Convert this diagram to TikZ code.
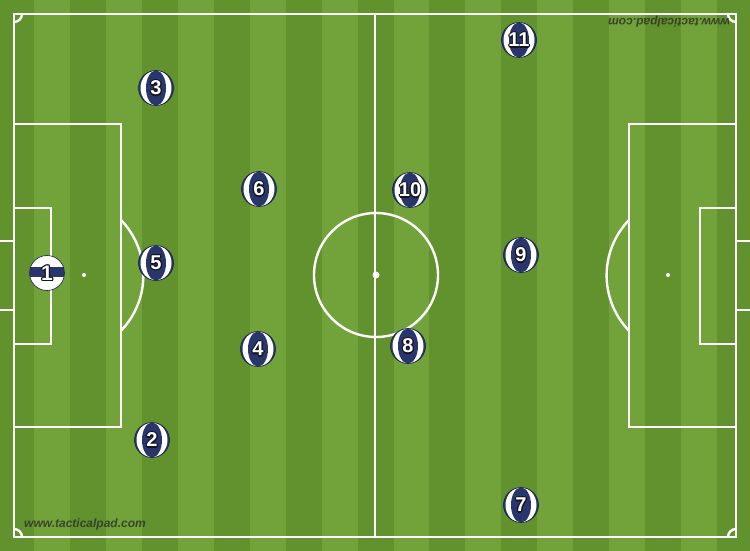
\documentclass[tikz,border=0pt]{standalone}
\usepackage{fontspec}
\setmainfont{Liberation Sans}
\definecolor{grlight}{RGB}{114,162,58}
\definecolor{grdark}{RGB}{98,146,46}
\definecolor{navy}{RGB}{40,54,108}
\definecolor{navyd}{RGB}{22,30,66}
\definecolor{numline}{RGB}{20,20,30}
\newcommand\outl[1]{\leavevmode
 \rlap{\hspace{-1.2pt}\textcolor{numline}{#1}}%
 \rlap{\hspace{1.2pt}\textcolor{numline}{#1}}%
 \rlap{\raisebox{1.2pt}{\textcolor{numline}{#1}}}%
 \rlap{\raisebox{-1.2pt}{\textcolor{numline}{#1}}}%
 \rlap{\hspace{-0.85pt}\raisebox{0.85pt}{\textcolor{numline}{#1}}}%
 \rlap{\hspace{0.85pt}\raisebox{0.85pt}{\textcolor{numline}{#1}}}%
 \rlap{\hspace{-0.85pt}\raisebox{-0.85pt}{\textcolor{numline}{#1}}}%
 \rlap{\hspace{0.85pt}\raisebox{-0.85pt}{\textcolor{numline}{#1}}}%
 \textcolor{white}{#1}}
\begin{document}
\begin{tikzpicture}[x=1pt,y=-1pt,
  pline/.style={draw=white,line width=2.4pt},
  player/.style={circle,minimum size=35pt,inner sep=0pt,fill=navy,draw=navyd,line width=0.6pt,
    font=\fontsize{20}{20}\selectfont\bfseries,
    path picture={
      \fill[white] (path picture bounding box.center) ellipse (15.5pt and 17.5pt);
      \fill[navy] (path picture bounding box.center) ellipse (10pt and 17.5pt);
    }},
  keeper/.style={circle,minimum size=35pt,inner sep=0pt,fill=white,draw=navyd,line width=0.6pt,
    font=\fontsize{21}{21}\selectfont\bfseries,
    path picture={
      \fill[navy] ([yshift=6pt]path picture bounding box.west) rectangle ([yshift=-4pt]path picture bounding box.east);
    }},
  wm/.style={font=\fontsize{12}{12}\selectfont\bfseries\itshape,text=black!85,opacity=0.75,inner sep=0pt}
]
\useasboundingbox (0,0) rectangle (750,551);
% stripes
\fill[grdark] (0,0) rectangle (750,551);
\foreach \k in {0,...,9} \fill[grlight] (34+\k*71.9,0) rectangle (34+\k*71.9+35.95,551);
% pitch lines
\draw[pline] (14,14) rectangle (736,537);
\draw[pline] (375,14) -- (375,537);
\draw[pline] (376,275) circle (62);
\fill[white] (376,275) circle (3.5);
% left
\draw[pline] (14,124) rectangle (121,427);
\draw[pline] (14,208) rectangle (51,344);
\fill[white] (84,275) circle (2);
\draw[pline] (121,220) arc[start angle=-44,end angle=44,radius=79.7];
\draw[pline] (0,241) -- (14,241);
\draw[pline] (0,310) -- (14,310);
% right
\draw[pline] (736,124) rectangle (629,427);
\draw[pline] (736,208) rectangle (700,344);
\fill[white] (668,275) circle (2);
\draw[pline] (629,220) arc[start angle=224,end angle=136,radius=79.7];
\draw[pline] (736,241) -- (750,241);
\draw[pline] (736,310) -- (750,310);
% corners
\draw[pline] (22,14) arc[start angle=0,end angle=90,radius=8];
\draw[pline] (14,529) arc[start angle=-90,end angle=0,radius=8];
\draw[pline] (728,14) arc[start angle=180,end angle=90,radius=8];
\draw[pline] (736,529) arc[start angle=-90,end angle=-180,radius=8];
% watermarks
\node[wm,anchor=west] (wm1) at (24,524) {www.tacticalpad.com};
\node[wm,anchor=west,rotate=180] (wm2) at (730,22) {www.tacticalpad.com};
% players
\node[keeper] (p1) at (47,273) {\outl{1}};
\node[player] (p2) at (152,440) {\outl{2}};
\node[player] (p3) at (156,88) {\outl{3}};
\node[player] (p4) at (258,349) {\outl{4}};
\node[player] (p5) at (156,263) {\outl{5}};
\node[player] (p6) at (259,189) {\outl{6}};
\node[player] (p7) at (521,505) {\outl{7}};
\node[player] (p8) at (408,346) {\outl{8}};
\node[player] (p9) at (521,255) {\outl{9}};
\node[player] (p10) at (410,190) {\outl{10}};
\node[player] (p11) at (519,40) {\outl{11}};
\end{tikzpicture}
\end{document}
